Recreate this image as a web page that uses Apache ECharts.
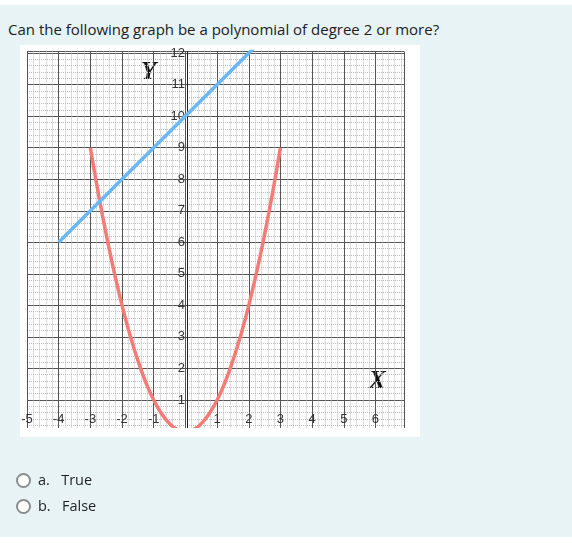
<!DOCTYPE html>
<html><head><meta charset="utf-8">
<script src="https://cdn.jsdelivr.net/npm/echarts@6/dist/echarts.min.js"></script>
<style>
body{margin:0;width:572px;height:543px;background:#fff;font-family:"Open Sans",sans-serif;position:relative;overflow:hidden}
#bg{position:absolute;left:0;top:5px;width:572px;height:532px;background:#e7f3f5}
#q{position:absolute;left:8px;top:19px;font-size:15px;color:#1d2125}
#img{position:absolute;left:20px;top:45px;width:400px;height:392px;background:#fff}
#chart{position:absolute;left:0;top:0;width:572px;height:543px}
#cut{position:absolute;left:20px;top:428px;width:400px;height:9px;background:#fff}
.opt{position:absolute;left:16px;font-size:14.5px;color:#1d2125}
.r{display:inline-block;width:11px;height:11px;border:2px solid #8a8d90;border-radius:50%;vertical-align:-3px;margin-right:7px;background:#fff}
</style></head><body>
<div id="bg"></div>
<div id="q">Can the following graph be a polynomial of degree 2 or more?</div>
<div id="img"></div>
<div id="chart"></div>
<div id="cut"></div>
<div class="opt" style="top:470px"><span class="r"></span>a.&nbsp;&nbsp; True</div>
<div class="opt" style="top:496px"><span class="r"></span>b.&nbsp;&nbsp; False</div>
<script>
const parabolaX = [-3,-2.75,-2.5,-2.25,-2,-1.75,-1.5,-1.25,-1,-0.75,-0.5,-0.25,0,0.25,0.5,0.75,1,1.25,1.5,1.75,2,2.25,2.5,2.75,3];
const parabolaY = [9,7.56,6.25,5.06,4,3.06,2.25,1.56,1,0.56,0.25,0.06,0,0.06,0.25,0.56,1,1.56,2.25,3.06,4,5.06,6.25,7.56,9];
const lineX = [-4, 2.3];
const lineY = [6, 12.3];
const chart = echarts.init(document.getElementById('chart'));
chart.setOption({
  animation:false,
  grid:{left:27,top:51.5,width:377,height:380},
  xAxis:{type:'value',min:-5,max:6.9,interval:1,
    axisLine:{show:false},axisTick:{show:false},
    axisLabel:{inside:true,margin:6,fontSize:13,color:'#333',fontFamily:'Arial',showMaxLabel:false,
      formatter:v=>v===0?'':String(v)},
    splitLine:{lineStyle:{color:'#555',width:1}},
    minorTick:{show:false,splitNumber:5},
    minorSplitLine:{show:true,lineStyle:{color:'#bbb',type:'dotted'}}},
  yAxis:{type:'value',min:0,max:12.05,interval:1,position:'left',offset:-160,
    axisLine:{show:true,onZero:false,lineStyle:{color:'#222'}},axisTick:{show:false},
    axisLabel:{margin:2,fontSize:13,color:'#333',fontFamily:'Arial',
      formatter:v=>v===0?'':String(v)},
    splitLine:{lineStyle:{color:'#555',width:1}},
    minorTick:{show:false,splitNumber:5},
    minorSplitLine:{show:true,lineStyle:{color:'#bbb',type:'dotted'}}},
  graphic:[
    {type:'text',left:141,top:60,style:{text:'Y',fontFamily:'Liberation Serif',fontStyle:'italic',fontWeight:'bold',fontSize:25,fill:'#111'}},
    {type:'text',left:369,top:369,style:{text:'X',fontFamily:'Liberation Serif',fontStyle:'italic',fontWeight:'bold',fontSize:25,fill:'#111'}}
  ],
  series:[
    {type:'line',data:parabolaX.map((x,i)=>[x,parabolaY[i]]),smooth:true,showSymbol:false,
      lineStyle:{color:'#f47b76',width:3.5}},
    {type:'line',data:lineX.map((x,i)=>[x,lineY[i]]),showSymbol:false,
      lineStyle:{color:'#6ab7f5',width:3.5}}
  ]
});
</script>
</body></html>
